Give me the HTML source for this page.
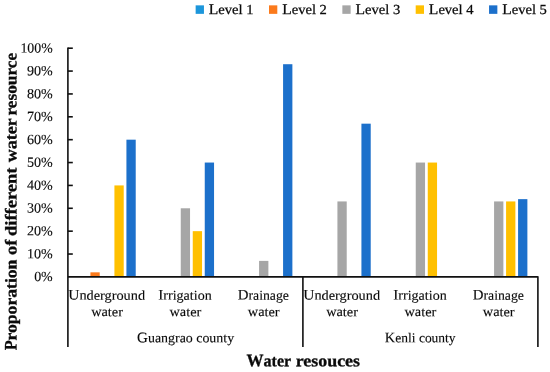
<!DOCTYPE html>
<html><head><meta charset="utf-8"><title>Chart</title><style>html,body{margin:0;padding:0;background:#fff}svg{display:block}</style></head><body>
<svg width="550" height="372" viewBox="0 0 550 372" font-family="'Liberation Serif', serif">
<rect width="550" height="372" fill="#fff"/>
<rect x="90.42" y="272.33" width="9.3" height="4.57" fill="#fb7a1c"/>
<rect x="114.42" y="185.42" width="9.3" height="91.48" fill="#ffc000"/>
<rect x="126.42" y="139.68" width="9.3" height="137.22" fill="#1c70cb"/>
<rect x="180.75" y="208.29" width="9.3" height="68.61" fill="#a6a6a6"/>
<rect x="192.75" y="231.16" width="9.3" height="45.74" fill="#ffc000"/>
<rect x="204.75" y="162.55" width="9.3" height="114.35" fill="#1c70cb"/>
<rect x="259.08" y="260.89" width="9.3" height="16.01" fill="#a6a6a6"/>
<rect x="283.08" y="64.21" width="9.3" height="212.69" fill="#1c70cb"/>
<rect x="337.42" y="201.43" width="9.3" height="75.47" fill="#a6a6a6"/>
<rect x="361.42" y="123.67" width="9.3" height="153.23" fill="#1c70cb"/>
<rect x="415.75" y="162.55" width="9.3" height="114.35" fill="#a6a6a6"/>
<rect x="427.75" y="162.55" width="9.3" height="114.35" fill="#ffc000"/>
<rect x="494.08" y="201.43" width="9.3" height="75.47" fill="#a6a6a6"/>
<rect x="506.08" y="201.43" width="9.3" height="75.47" fill="#ffc000"/>
<rect x="518.08" y="199.14" width="9.3" height="77.76" fill="#1c70cb"/>
<g stroke="#101010" stroke-width="1.6" fill="none">
<line x1="67.9" y1="47.5" x2="67.9" y2="347.0"/>
<line x1="67.9" y1="276.9" x2="537.9" y2="276.9"/>
<line x1="302.9" y1="276.9" x2="302.9" y2="347.0"/>
<line x1="537.9" y1="276.2" x2="537.9" y2="347.0"/>
<line x1="67.9" y1="254.03" x2="72.80000000000001" y2="254.03"/>
<line x1="67.9" y1="231.16" x2="72.80000000000001" y2="231.16"/>
<line x1="67.9" y1="208.29" x2="72.80000000000001" y2="208.29"/>
<line x1="67.9" y1="185.42" x2="72.80000000000001" y2="185.42"/>
<line x1="67.9" y1="162.55" x2="72.80000000000001" y2="162.55"/>
<line x1="67.9" y1="139.68" x2="72.80000000000001" y2="139.68"/>
<line x1="67.9" y1="116.81" x2="72.80000000000001" y2="116.81"/>
<line x1="67.9" y1="93.94" x2="72.80000000000001" y2="93.94"/>
<line x1="67.9" y1="71.07" x2="72.80000000000001" y2="71.07"/>
<line x1="67.9" y1="48.20" x2="72.80000000000001" y2="48.20"/>
</g>
<g fill="#0a0a0a" stroke="#0a0a0a" stroke-width="0.12">
<g font-size="14">
<text transform="translate(34.15,281.10) rotate(0.1)" textLength="18.6" lengthAdjust="spacingAndGlyphs">0%</text>
<text transform="translate(26.95,258.23) rotate(0.1)" textLength="25.8" lengthAdjust="spacingAndGlyphs">10%</text>
<text transform="translate(26.95,235.36) rotate(0.1)" textLength="25.8" lengthAdjust="spacingAndGlyphs">20%</text>
<text transform="translate(26.95,212.49) rotate(0.1)" textLength="25.8" lengthAdjust="spacingAndGlyphs">30%</text>
<text transform="translate(26.95,189.62) rotate(0.1)" textLength="25.8" lengthAdjust="spacingAndGlyphs">40%</text>
<text transform="translate(26.95,166.75) rotate(0.1)" textLength="25.8" lengthAdjust="spacingAndGlyphs">50%</text>
<text transform="translate(26.95,143.88) rotate(0.1)" textLength="25.8" lengthAdjust="spacingAndGlyphs">60%</text>
<text transform="translate(26.95,121.01) rotate(0.1)" textLength="25.8" lengthAdjust="spacingAndGlyphs">70%</text>
<text transform="translate(26.95,98.14) rotate(0.1)" textLength="25.8" lengthAdjust="spacingAndGlyphs">80%</text>
<text transform="translate(26.95,75.27) rotate(0.1)" textLength="25.8" lengthAdjust="spacingAndGlyphs">90%</text>
<text transform="translate(20.45,52.40) rotate(0.1)" textLength="32.3" lengthAdjust="spacingAndGlyphs">100%</text>
</g>
<g font-size="13.8" stroke-width="0.25">
<rect stroke="none" x="195.65" y="5.35" width="8.3" height="8.5" fill="#1c96db"/>
<text transform="translate(208.80,14.00) rotate(0.1)" textLength="44.7" lengthAdjust="spacingAndGlyphs"><tspan font-size="14.8">L</tspan>evel 1</text>
<rect stroke="none" x="269.00" y="5.35" width="8.3" height="8.5" fill="#fb7a1c"/>
<text transform="translate(282.15,14.00) rotate(0.1)" textLength="44.7" lengthAdjust="spacingAndGlyphs"><tspan font-size="14.8">L</tspan>evel 2</text>
<rect stroke="none" x="342.35" y="5.35" width="8.3" height="8.5" fill="#a6a6a6"/>
<text transform="translate(355.50,14.00) rotate(0.1)" textLength="44.7" lengthAdjust="spacingAndGlyphs"><tspan font-size="14.8">L</tspan>evel 3</text>
<rect stroke="none" x="415.70" y="5.35" width="8.3" height="8.5" fill="#ffc000"/>
<text transform="translate(428.85,14.00) rotate(0.1)" textLength="44.7" lengthAdjust="spacingAndGlyphs"><tspan font-size="14.8">L</tspan>evel 4</text>
<rect stroke="none" x="489.05" y="5.35" width="8.3" height="8.5" fill="#1c70cb"/>
<text transform="translate(502.20,14.00) rotate(0.1)" textLength="44.7" lengthAdjust="spacingAndGlyphs"><tspan font-size="14.8">L</tspan>evel 5</text>
</g>
<g font-size="13.5">
<text transform="translate(68.27,299.60) rotate(0.1)" textLength="76.8" lengthAdjust="spacingAndGlyphs"><tspan font-size="14.6">U</tspan>nderground</text>
<text transform="translate(91.17,316.10) rotate(0.1)" textLength="31.8" lengthAdjust="spacingAndGlyphs">water</text>
<text transform="translate(158.30,299.60) rotate(0.1)" textLength="53.4" lengthAdjust="spacingAndGlyphs"><tspan font-size="14.6">I</tspan>rrigation</text>
<text transform="translate(169.50,316.10) rotate(0.1)" textLength="31.8" lengthAdjust="spacingAndGlyphs">water</text>
<text transform="translate(237.73,299.60) rotate(0.1)" textLength="51.2" lengthAdjust="spacingAndGlyphs"><tspan font-size="14.6">D</tspan>rainage</text>
<text transform="translate(247.83,316.10) rotate(0.1)" textLength="31.8" lengthAdjust="spacingAndGlyphs">water</text>
<text transform="translate(303.27,299.60) rotate(0.1)" textLength="76.8" lengthAdjust="spacingAndGlyphs"><tspan font-size="14.6">U</tspan>nderground</text>
<text transform="translate(326.17,316.10) rotate(0.1)" textLength="31.8" lengthAdjust="spacingAndGlyphs">water</text>
<text transform="translate(393.30,299.60) rotate(0.1)" textLength="53.4" lengthAdjust="spacingAndGlyphs"><tspan font-size="14.6">I</tspan>rrigation</text>
<text transform="translate(404.50,316.10) rotate(0.1)" textLength="31.8" lengthAdjust="spacingAndGlyphs">water</text>
<text transform="translate(472.73,299.60) rotate(0.1)" textLength="51.2" lengthAdjust="spacingAndGlyphs"><tspan font-size="14.6">D</tspan>rainage</text>
<text transform="translate(482.83,316.10) rotate(0.1)" textLength="31.8" lengthAdjust="spacingAndGlyphs">water</text>
<text transform="translate(137.10,342.20) rotate(0.1)" textLength="97" lengthAdjust="spacingAndGlyphs"><tspan font-size="14.6">G</tspan>uangrao county</text>
<text transform="translate(384.80,342.20) rotate(0.1)" textLength="70.8" lengthAdjust="spacingAndGlyphs"><tspan font-size="14.6">K</tspan>enli county</text>
</g>
<g font-size="16.5" font-weight="bold" stroke-width="0.3">
<text transform="translate(246.60,366.20) rotate(0.1)" textLength="44.5" lengthAdjust="spacingAndGlyphs"><tspan font-size="17.6">W</tspan>ater</text>
<text transform="translate(295.70,366.20) rotate(0.1)" textLength="64.3" lengthAdjust="spacingAndGlyphs">resouces</text>
<text transform="translate(16.40,350.20) rotate(-89.9)" textLength="9.9" lengthAdjust="spacingAndGlyphs"><tspan font-size="17.6">P</tspan></text>
<text transform="translate(16.40,340.50) rotate(-89.9)" textLength="80.9" lengthAdjust="spacingAndGlyphs">roporation</text>
<text transform="translate(16.40,254.90) rotate(-89.9)" textLength="15.4" lengthAdjust="spacingAndGlyphs">of</text>
<text transform="translate(16.40,236.00) rotate(-89.9)" textLength="68.5" lengthAdjust="spacingAndGlyphs">different</text>
<text transform="translate(16.40,162.20) rotate(-89.9)" textLength="44.0" lengthAdjust="spacingAndGlyphs">water</text>
<text transform="translate(16.40,115.50) rotate(-89.9)" textLength="62.6" lengthAdjust="spacingAndGlyphs">resource</text>
</g>
</g>
</svg>
</body></html>
